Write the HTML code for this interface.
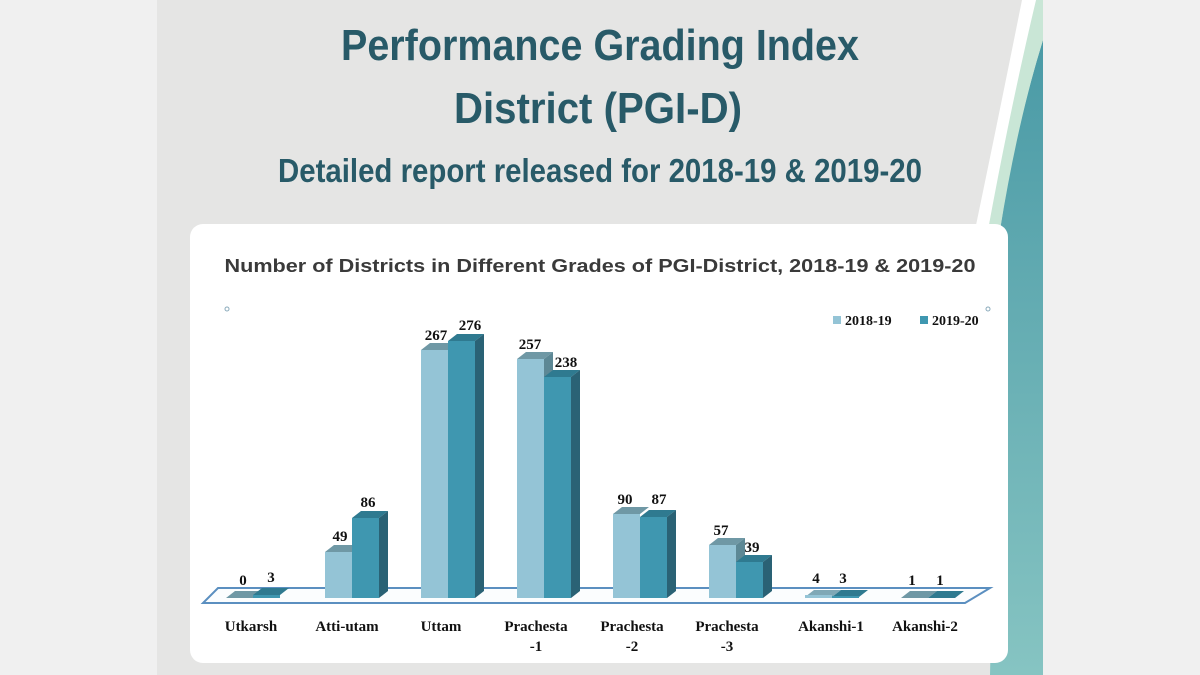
<!DOCTYPE html>
<html><head><meta charset="utf-8"><style>
html,body{margin:0;padding:0;background:#f0f0f0;}
svg{display:block}
</style></head><body>
<svg width="1200" height="675" viewBox="0 0 1200 675" xmlns="http://www.w3.org/2000/svg">
<defs>
<linearGradient id="tg" x1="0" y1="0" x2="0" y2="1"><stop offset="0" stop-color="#4a9aa6"/><stop offset="1" stop-color="#86c4c2"/></linearGradient>
</defs>
<rect width="1200" height="675" fill="#f0f0f0"/>
<rect x="157" y="0" width="886" height="675" fill="#e5e5e4"/>
<!-- right decorations -->
<path d="M1043 40 Q1015 130 1000 230 L990 675 L1043 675 Z" fill="url(#tg)"/>
<path d="M1043 0 L1036 0 Q1010 100 988 230 L1000 230 Q1018 120 1043 40 Z" fill="#c9e6d6"/>
<path d="M1036 0 L1022 0 Q1000 110 975 230 L988 230 Q1010 110 1036 0 Z" fill="#ffffff"/>
<!-- titles -->
<g font-family="Liberation Sans, DejaVu Sans, sans-serif" font-weight="bold" fill="#285a68" text-anchor="middle">
<text x="600" y="60" font-size="44" textLength="518" lengthAdjust="spacingAndGlyphs">Performance Grading Index</text>
<text x="598" y="123" font-size="44" textLength="288" lengthAdjust="spacingAndGlyphs">District (PGI-D)</text>
<text x="600" y="182" font-size="33" textLength="644" lengthAdjust="spacingAndGlyphs">Detailed report released for 2018-19 &amp; 2019-20</text>
</g>
<!-- card -->
<rect x="190" y="224" width="818" height="439" rx="13" fill="#ffffff"/>
<text x="600" y="272" font-family="Liberation Sans, sans-serif" font-size="18" font-weight="bold" fill="#3a3a3a" text-anchor="middle" textLength="751" lengthAdjust="spacingAndGlyphs">Number of Districts in Different Grades of PGI-District, 2018-19 &amp; 2019-20</text>
<circle cx="227" cy="309" r="2" fill="none" stroke="#8aaabb"/>
<circle cx="988" cy="309" r="2" fill="none" stroke="#8aaabb"/>
<!-- legend -->
<g font-family="Liberation Serif, serif" font-weight="bold" font-size="14" fill="#111">
<rect x="833" y="316" width="8" height="8" fill="#94c4d6"/><text x="845" y="325">2018-19</text>
<rect x="920" y="316" width="8" height="8" fill="#3f97b0"/><text x="932" y="325">2019-20</text>
</g>
<!-- floor -->
<polygon points="218,588 990,588 965,603 203,603" fill="#fbfdfe" stroke="#5b8fc0" stroke-width="2"/>
<g stroke="none">
<polygon points="226,598 235,591 262,591 253,598" fill="#6f98a5"/>
<polygon points="253,595 262,588 289,588 280,595" fill="#2f7a90"/>
<rect x="253" y="595" width="27" height="3" fill="#3f97b0"/>
<polygon points="325,552 334,545 361,545 352,552" fill="#6f98a5"/>
<rect x="325" y="552" width="27" height="46" fill="#94c4d6"/>
<polygon points="352,518 361,511 388,511 379,518" fill="#2f7a90"/>
<polygon points="379,518 388,511 388,591 379,598" fill="#2a6275"/>
<rect x="352" y="518" width="27" height="80" fill="#3f97b0"/>
<polygon points="421,350 430,343 457,343 448,350" fill="#6f98a5"/>
<rect x="421" y="350" width="27" height="248" fill="#94c4d6"/>
<polygon points="448,341 457,334 484,334 475,341" fill="#2f7a90"/>
<polygon points="475,341 484,334 484,591 475,598" fill="#2a6275"/>
<rect x="448" y="341" width="27" height="257" fill="#3f97b0"/>
<polygon points="517,359 526,352 553,352 544,359" fill="#6f98a5"/>
<polygon points="544,359 553,352 553,591 544,598" fill="#5d8895"/>
<rect x="517" y="359" width="27" height="239" fill="#94c4d6"/>
<polygon points="544,377 553,370 580,370 571,377" fill="#2f7a90"/>
<polygon points="571,377 580,370 580,591 571,598" fill="#2a6275"/>
<rect x="544" y="377" width="27" height="221" fill="#3f97b0"/>
<polygon points="613,514 622,507 649,507 640,514" fill="#6f98a5"/>
<rect x="613" y="514" width="27" height="84" fill="#94c4d6"/>
<polygon points="640,517 649,510 676,510 667,517" fill="#2f7a90"/>
<polygon points="667,517 676,510 676,591 667,598" fill="#2a6275"/>
<rect x="640" y="517" width="27" height="81" fill="#3f97b0"/>
<polygon points="709,545 718,538 745,538 736,545" fill="#6f98a5"/>
<polygon points="736,545 745,538 745,591 736,598" fill="#5d8895"/>
<rect x="709" y="545" width="27" height="53" fill="#94c4d6"/>
<polygon points="736,562 745,555 772,555 763,562" fill="#2f7a90"/>
<polygon points="763,562 772,555 772,591 763,598" fill="#2a6275"/>
<rect x="736" y="562" width="27" height="36" fill="#3f97b0"/>
<polygon points="805,597 814,590 841,590 832,597" fill="#7fa8b6"/>
<rect x="805" y="595" width="27" height="3" fill="#94c4d6"/>
<polygon points="832,597 841,590 868,590 859,597" fill="#2f7a90"/>
<rect x="832" y="596" width="27" height="2" fill="#3f97b0"/>
<polygon points="901,598 910,591 937,591 928,598" fill="#6f98a5"/>
<polygon points="928,598 937,591 964,591 955,598" fill="#2f7a90"/>
</g>
<g font-family="Liberation Serif, serif" font-weight="bold" font-size="15" fill="#111" text-anchor="middle">
<text x="243" y="585">0</text><text x="271" y="582">3</text>
<text x="340" y="541">49</text><text x="368" y="507">86</text>
<text x="436" y="340">267</text><text x="470" y="330">276</text>
<text x="530" y="349">257</text><text x="566" y="367">238</text>
<text x="625" y="504">90</text><text x="659" y="504">87</text>
<text x="721" y="535">57</text><text x="752" y="552">39</text>
<text x="816" y="583">4</text><text x="843" y="583">3</text>
<text x="912" y="585">1</text><text x="940" y="585">1</text>
</g>
<g font-family="Liberation Serif, serif" font-weight="bold" font-size="15" fill="#111" text-anchor="middle">
<text x="251" y="631">Utkarsh</text>
<text x="347" y="631">Atti-utam</text>
<text x="441" y="631">Uttam</text>
<text x="536" y="631">Prachesta</text><text x="536" y="651">-1</text>
<text x="632" y="631">Prachesta</text><text x="632" y="651">-2</text>
<text x="727" y="631">Prachesta</text><text x="727" y="651">-3</text>
<text x="831" y="631">Akanshi-1</text>
<text x="925" y="631">Akanshi-2</text>
</g>
</svg>
</body></html>
